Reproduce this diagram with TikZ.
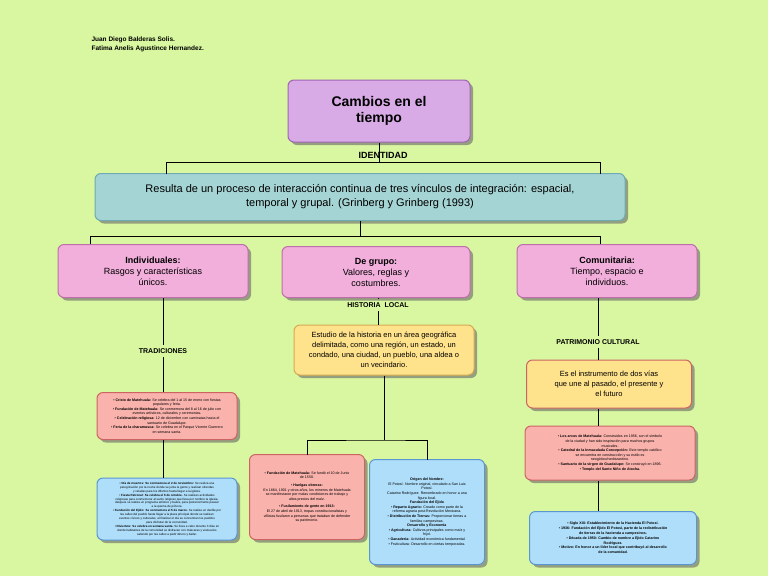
\documentclass[tikz,border=0pt]{standalone}
\usepackage{fontspec}
\setmainfont{Liberation Sans}
\begin{document}
\definecolor{bg}{RGB}{217,247,160}
\definecolor{purp}{RGB}{216,170,230}
\definecolor{purpd}{RGB}{160,100,180}
\definecolor{teal}{RGB}{165,212,212}
\definecolor{teald}{RGB}{110,170,175}
\definecolor{pink}{RGB}{242,175,220}
\definecolor{pinkd}{RGB}{190,110,170}
\definecolor{yel}{RGB}{255,226,140}
\definecolor{yeld}{RGB}{215,170,80}
\definecolor{redb}{RGB}{250,178,172}
\definecolor{redd}{RGB}{205,100,100}
\definecolor{blu}{RGB}{175,222,250}
\definecolor{blud}{RGB}{90,150,210}
\begin{tikzpicture}[x=1pt,y=-1pt,
 box/.style={draw=#1,line width=1pt,rounded corners=6pt,align=center,inner sep=3pt,
   drop shadow={shadow xshift=3pt,shadow yshift=-3pt,fill=black!60,opacity=.6}},
 lbl/.style={font=\bfseries\fontsize{7}{8}\selectfont},
 tiny/.style={font=\fontsize{3.6}{4.6}\selectfont,align=center},
 ln/.style={draw=black,line width=0.6pt}]
\usetikzlibrary{shadows}
\fill[bg] (0,0) rectangle (768,576);
\useasboundingbox (0,0) rectangle (768,576);
\node[font=\bfseries\fontsize{6.5}{9}\selectfont,align=left,anchor=north west] (auth) at (88,33) {Juan Diego Balderas Solis.\\Fatima Anelis Agustince Hernandez.};
% title
\node[box=purpd,fill=purp,minimum width=182pt,minimum height=62pt,font=\bfseries\fontsize{14}{16}\selectfont] (title) at (379,111) {Cambios en el\\tiempo};
\node[lbl,font=\bfseries\fontsize{9}{10}\selectfont] (ident) at (383,155) {IDENTIDAD};
\node[box=teald,fill=teal,minimum width=530pt,minimum height=47pt,font=\fontsize{11}{14}\selectfont] (res) at (360,197) {Resulta de un proceso de interacción continua de tres vínculos de integración: espacial,\\temporal y grupal. (Grinberg y Grinberg (1993)};
\coordinate (t1) at (379,162);
\draw[ln] (title.south) -- (t1);
\draw[ln] (166,174) |- (600,162) -- (600,174);
\coordinate (t2) at (360,236);
\draw[ln] (res.south) -- (t2);
\draw[ln] (90,246) |- (600,236) -- (600,246);
% level 2
\node[box=pinkd,fill=pink,minimum width=190pt,minimum height=53pt,font=\fontsize{9}{11}\selectfont] (ind) at (153,271) {\textbf{Individuales:}\\Rasgos y características\\únicos.};
\node[box=pinkd,fill=pink,minimum width=188pt,minimum height=51pt,font=\fontsize{9}{11}\selectfont] (grp) at (376,272) {\textbf{De grupo:}\\Valores, reglas y\\costumbres.};
\node[box=pinkd,fill=pink,minimum width=180pt,minimum height=53pt,font=\fontsize{9}{11}\selectfont] (com) at (607,271) {\textbf{Comunitaria:}\\Tiempo, espacio e\\individuos.};
% historia local
\node[lbl] (hl) at (378,305) {HISTORIA\ \ LOCAL};
\node[box=yeld,fill=yel,minimum width=180pt,minimum height=50pt,font=\fontsize{7.5}{10}\selectfont] (est) at (384,350) {Estudio de la historia en un área geográfica\\delimitada, como una región, un estado, un\\condado, una ciudad, un pueblo, una aldea o\\un vecindario.};
\draw[ln] (hl.north |- grp.south) -- (hl.north);
\draw[ln] (hl.south) -- (hl.south |- est.north);
% tradiciones
\node[lbl] (trad) at (163,351) {TRADICIONES};
\node[box=redd,fill=redb,minimum width=140pt,minimum height=47pt,tiny] (tr1) at (167,416) {\textbullet\ \textbf{Cristo de Matehuala:} Se celebra del 1 al 15 de enero con fiestas\\populares y feria.\\\textbullet\ \textbf{Fundación de Matehuala:} Se conmemora del 8 al 16 de julio con\\eventos artísticos, culturales y ceremonias.\\\textbullet\ \textbf{Celebración religiosa:} 12 de diciembre con caminatas hasta el\\santuario de Guadalupe.\\\textbullet\ \textbf{Feria de la charamusca:} Se celebra en el Parque Vicente Guerrero\\en semana santa.};
\node[box=blud,fill=blu,minimum width=140pt,minimum height=62pt,font=\fontsize{3}{3.9}\selectfont,align=center] (tr2) at (167,509) {\textbullet\ \textbf{Día de muertos: Se conmemora el 2 de noviembre:} Se realiza una\\peregrinación por la noche donde se junta la gente y realizan ofrendas\\y veladas para los difuntos hasta llegar a la iglesia.\\\textbullet\ \textbf{Fiesta Patronal: Se celebra el 6 de octubre.} Se realizan actividades\\religiosas para conmemorar al santo religioso que lleva por nombre la iglesia,\\después se realiza un programa artístico y bailes, para posteriormente pasear\\a la quema de pólvora.\\\textbullet\ \textbf{Fundación del Ejido: Se conmemora el 5 de marzo.} Se realiza un desfile por\\las calles del pueblo hasta llegar a la plaza principal donde se realizan\\eventos cívicos y culturales, al finalizar el día se concentran los pueblos\\para disfrutar de la comunidad.\\\textbullet\ \textbf{Diviertete: Se celebra en semana santa.} Se lleva a cabo durante 3 días en\\donde habitantes de la comunidad se disfrazan con máscaras y vestuarios\\saliendo por las calles a pedir dinero y bailar.};
\draw[ln] (trad.north |- ind.south) -- (trad.north);
\draw[ln] (trad.south) -- (trad.south |- tr1.north);
\draw[ln] (trad.south |- tr1.south) -- (trad.south |- tr2.north);
% historia local children
\node[box=redd,fill=redb,minimum width=115pt,minimum height=85pt,tiny] (hl1) at (307,497) {\textbullet\ \textbf{Fundación de Matehuala:} Se fundó el 10 de Junio\\de 1550.\\[3pt]\textbullet\ \textbf{Huelgas obreras:}\\En 1884, 1901 y otros años, los mineros de Matehuala\\se manifestaron por malas condiciones de trabajo y\\altos precios del maíz.\\[3pt]\textbullet\ \textbf{Fusilamiento de gente en 1913:}\\El 27 de abril de 1913, tropas constitucionalistas y\\villistas fusilaron a personas que trataban de defender\\su patrimonio.};
\node[box=blud,fill=blu,minimum width=115pt,minimum height=105pt,tiny] (hl2) at (427,512) {\textbf{Origen del Nombre:}\\El Potosí: Nombre original, vinculado a San Luis\\Potosí.\\Catarino Rodríguez: Renombrado en honor a una\\figura local.\\\textbf{Fundación del Ejido}\\\textbullet\ \textbf{Reparto Agrario:} Creado como parte de la\\reforma agraria post-Revolución Mexicana.\\\textbullet\ \textbf{Distribución de Tierras:} Proporcionar tierras a\\familias campesinas.\\\textbf{Desarrollo y Economía}\\\textbullet\ \textbf{Agricultura:} Cultivos principales como maíz y\\frijol.\\\textbullet\ \textbf{Ganadería:} Actividad económica fundamental.\\\textbullet\ Fruticultura: Desarrollo en ciertas temporadas.};
\coordinate (hj) at (384,440);
\draw[ln] (est.south) -- (hj);
\draw[ln] (307,455) |- (hj) -| (427,460);
% patrimonio
\node[lbl] (pat) at (598,342) {PATRIMONIO CULTURAL};
\node[box=redd,fill=yel,draw=redd,minimum width=165pt,minimum height=48pt,font=\fontsize{7.5}{10}\selectfont] (pc) at (609,384) {Es el instrumento de dos vías\\que une al pasado, el presente y\\el futuro};
\node[box=redd,fill=redb,minimum width=170pt,minimum height=54pt,tiny] (pc1) at (610,453) {\textbullet\ \textbf{Los arcos de Matehuala:} Construidos en 1956, son el símbolo\\de la ciudad y han sido inspiración para muchos grupos\\musicales.\\\textbullet\ \textbf{Catedral de la Inmaculada Concepción:} Este templo católico\\se encuentra en construcción y su estilo es\\neogótico/neobizantino.\\\textbullet\ \textbf{Santuario de la virgen de Guadalupe:} Se construyó en 1896.\\\textbullet\ \textbf{Templo del Santo Niño de Atocha.}};
\node[box=blud,fill=blu,minimum width=167pt,minimum height=53pt,tiny,font=\bfseries\fontsize{3.6}{4.8}\selectfont] (pc2) at (613,538) {\textbullet\ Siglo XIX: Establecimiento de la Hacienda El Potosí.\\\textbullet\ 1936: Fundación del Ejido El Potosí, parte de la redistribución\\de tierras de la hacienda a campesinos.\\\textbullet\ Década de 1950: Cambio de nombre a Ejido Catarino\\Rodríguez.\\\textbullet\ Motivo: En honor a un líder local que contribuyó al desarrollo\\de la comunidad.};
\draw[ln] (pat.north |- com.south) -- (pat.north);
\draw[ln] (pat.south) -- (pat.south |- pc.north);
\draw[ln] (pat.south |- pc.south) -- (pat.south |- pc1.north);
\draw[ln] (pat.south |- pc1.south) -- (pat.south |- pc2.north);
\end{tikzpicture}
\end{document}
